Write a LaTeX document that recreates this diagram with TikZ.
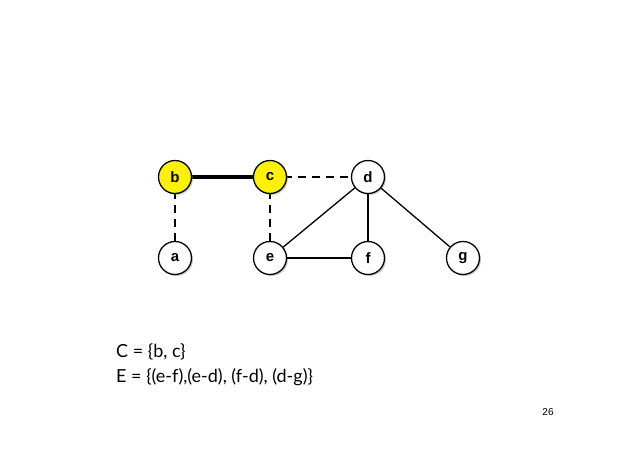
\documentclass[tikz,border=0pt]{standalone}
\usepackage{fontspec}
\setmainfont{Lato}
\newfontfamily\helv{Liberation Sans}
\usetikzlibrary{shadows}
\begin{document}
\begin{tikzpicture}[x=1pt,y=-1pt,
  vtx/.style={circle,draw,line width=1.3pt,minimum size=33pt,inner sep=0pt,fill=white,font=\helv\bfseries\fontsize{15}{15}\selectfont,drop shadow={shadow xshift=1.5pt,shadow yshift=-1.5pt,opacity=0.4}},
  sel/.style={fill=yellow},
  edge/.style={line width=1.3pt},
  dedge/.style={line width=1.3pt,dash pattern=on 8pt off 6pt}]
\useasboundingbox (0,0) rectangle (638,451);
\draw[dedge] (175,177) -- (175,258);
\draw[dedge] (270,177) -- (270,258);
\draw[dedge] (270,177) -- (368,177);
\draw[line width=4pt] (175,177) -- (270,177);
\node[vtx,sel] (b) at (175,177) {b};
\node[vtx,sel] (c) at (270,177) {c};
\node[vtx] (d) at (368,177) {d};
\node[vtx] (a) at (175,258) {a};
\node[vtx] (e) at (270,258) {e};
\node[vtx] (f) at (368,258) {f};
\node[vtx] (g) at (463,258) {g};
\draw[edge] (e) -- (f);
\draw[edge] (e) -- (d);
\draw[edge] (f) -- (d);
\draw[edge] (d) -- (g);
\node[anchor=west,font=\fontsize{18}{18}\selectfont,inner sep=0pt] (t1) at (116,352) {C = \{b, c\}};
\node[anchor=west,font=\fontsize{18}{18}\selectfont,inner sep=0pt] (t2) at (116,377) {E = \{(e-f),(e-d), (f-d), (d-g)\}};
\node[font=\helv\fontsize{10}{10}\selectfont,inner sep=0pt] (pg) at (548,412) {26};
\end{tikzpicture}
\end{document}
